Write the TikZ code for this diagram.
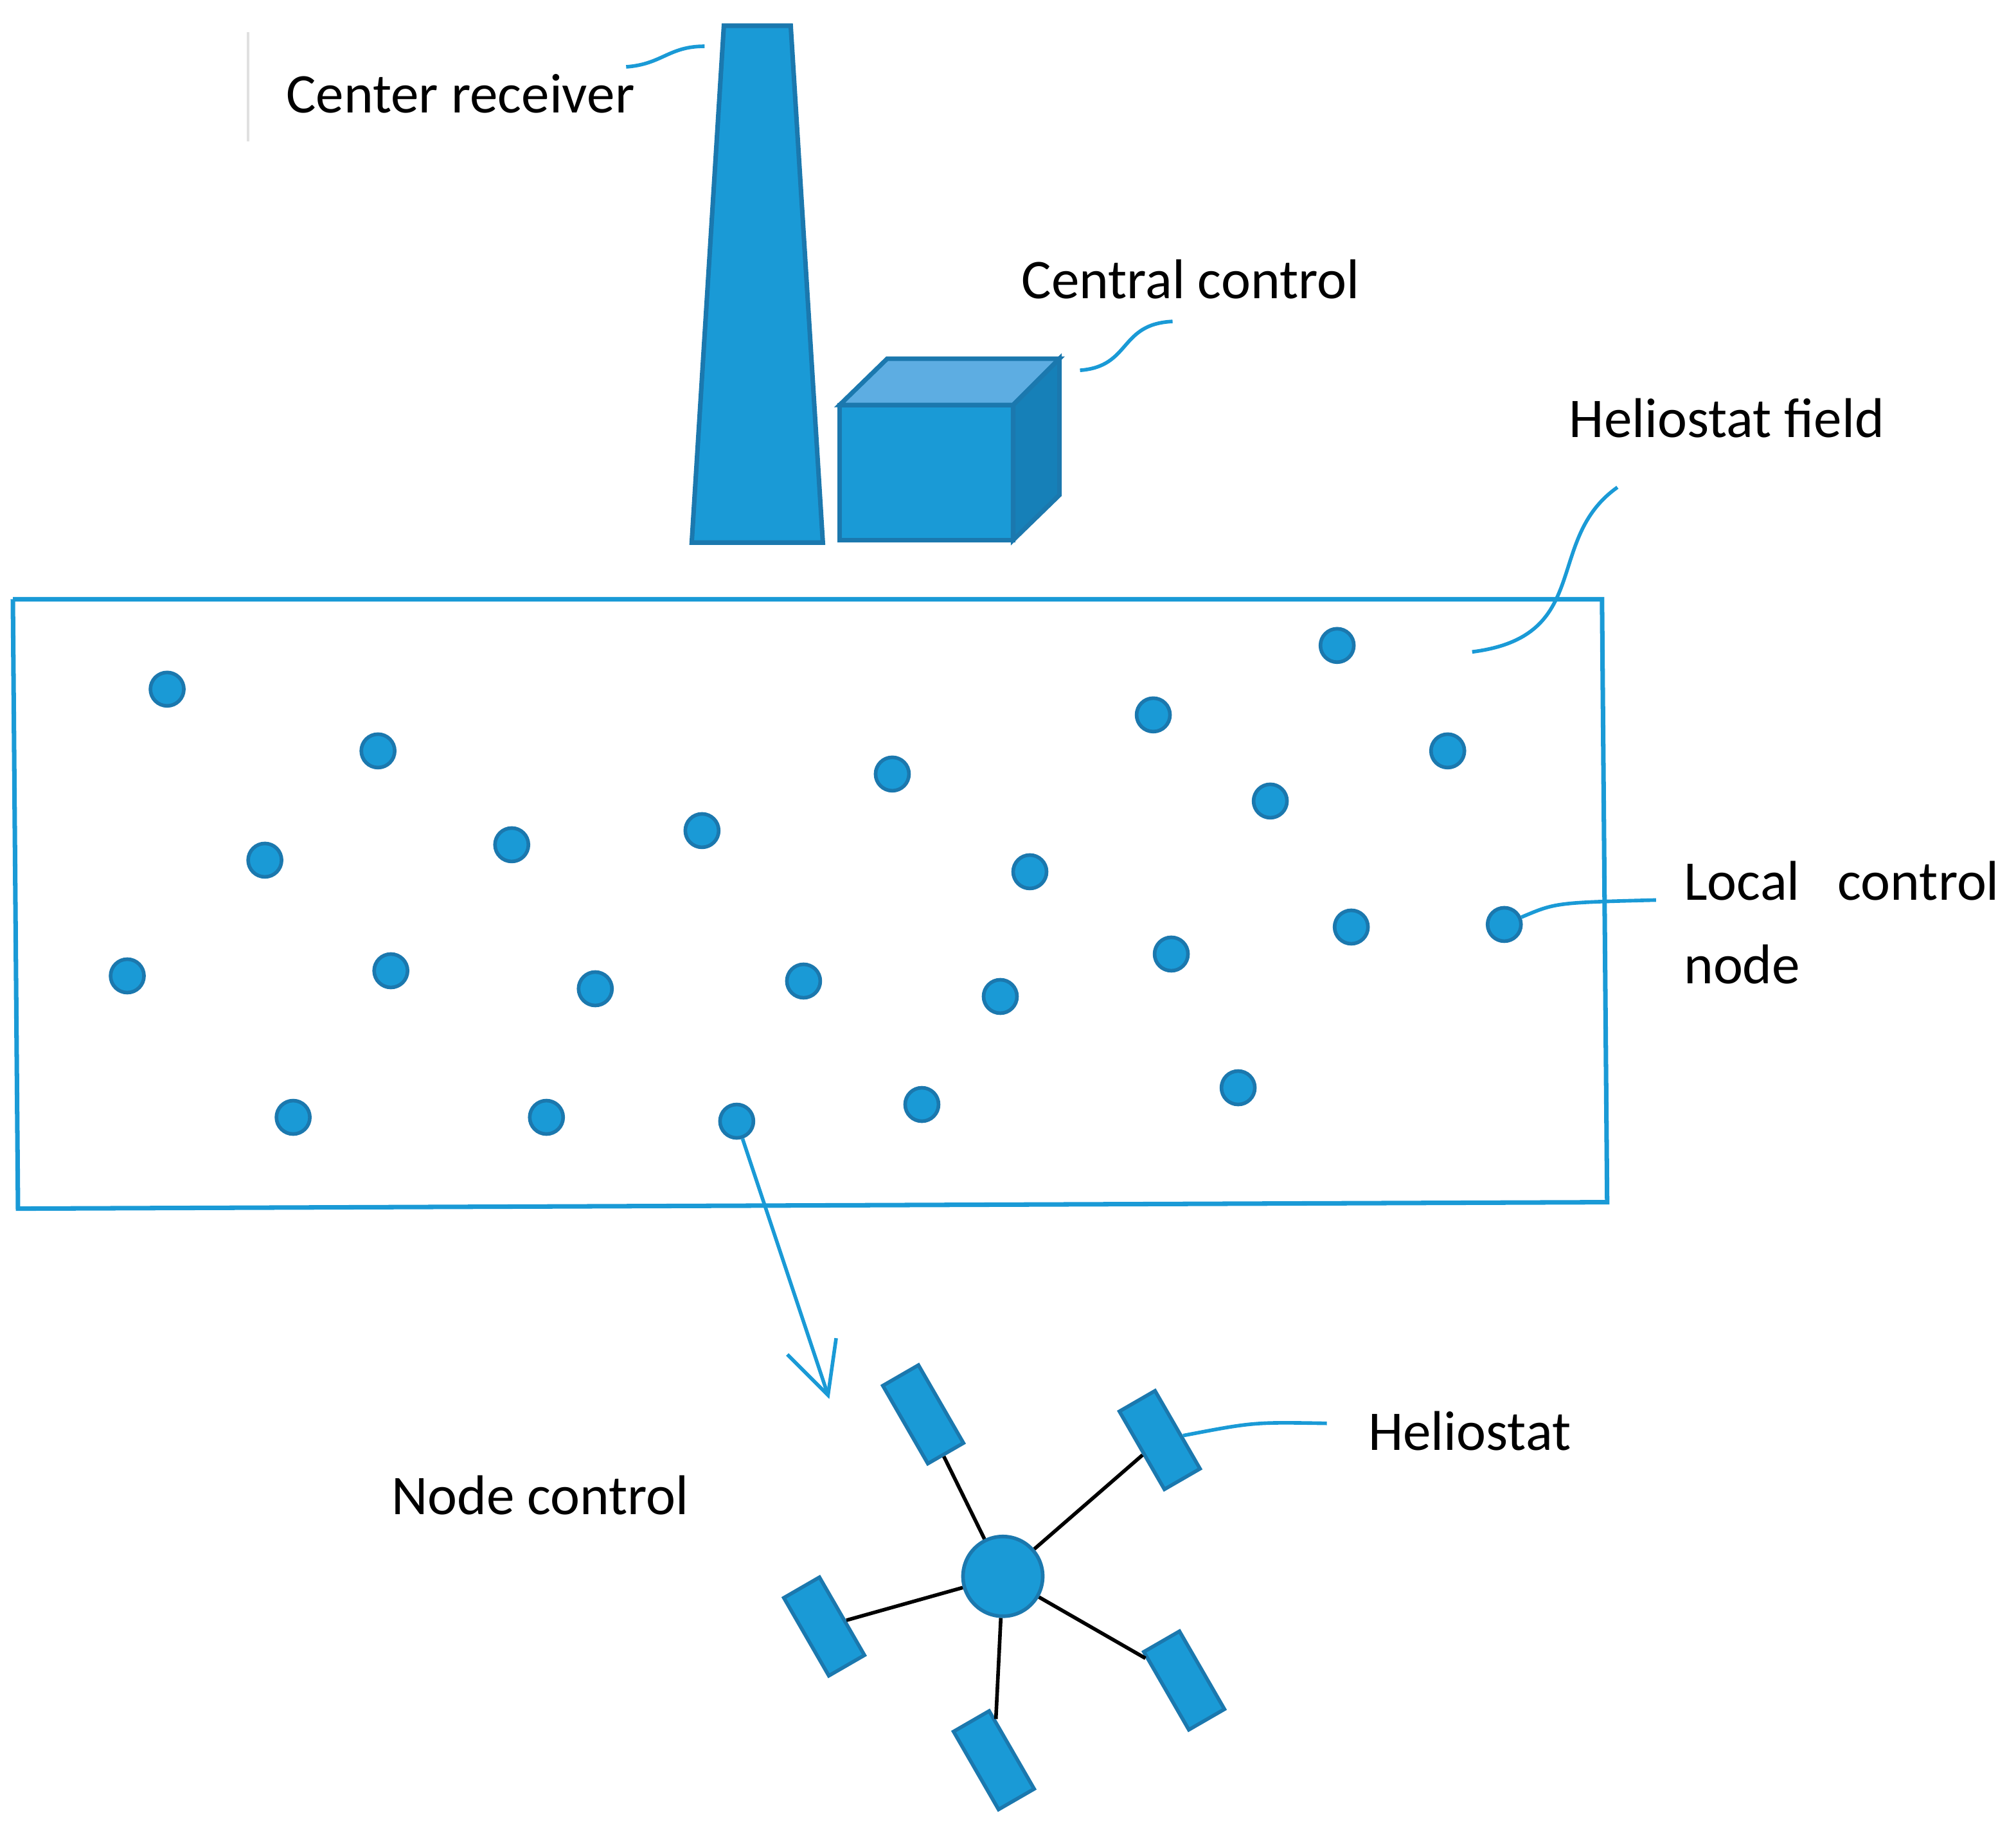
\documentclass[tikz,border=0pt]{standalone}
\usepackage{fontspec}
\setmainfont{Carlito}
\usetikzlibrary{arrows.meta}
\definecolor{hblue}{HTML}{1A9AD6}
\definecolor{hdark}{HTML}{1B78AE}
\definecolor{hlight}{HTML}{5DADE2}
\definecolor{hside}{HTML}{1680B8}
\tikzset{
  lbl/.style={font=\fontsize{12.4}{15}\selectfont, inner sep=0pt},
  leader/.style={hblue, line width=0.8pt},
  dot/.style={circle, fill=hblue, draw=hdark, line width=0.8pt, minimum size=2.6mm, inner sep=0pt},
  mirror/.style={rectangle, fill=hblue, draw=hdark, line width=0.8pt, minimum width=3.2mm, minimum height=7mm, inner sep=0pt, rotate=30}
}
\begin{document}
\begin{tikzpicture}[x=0.1mm, y=-0.1mm]
    \useasboundingbox (0,0) rectangle (1568,1431);
    \draw[black!12, line width=0.6pt] (193,25) -- (193,110);

    % tower and control building
    \filldraw[fill=hblue, draw=hdark, line width=1pt] (563,20) -- (615,20) -- (640,422) -- (538,422) -- cycle;
    \filldraw[fill=hblue, draw=hdark, line width=1pt] (653,315) rectangle (788,420);
    \filldraw[fill=hlight, draw=hdark, line width=1pt] (653,315) -- (690,279) -- (824,279) -- (788,315) -- cycle;
    \filldraw[fill=hside, draw=hdark, line width=1pt] (788,315) -- (824,279) -- (824,385) -- (788,420) -- cycle;

    % labels
    \node[lbl] (receiver) at (358,73) {Center receiver};
    \node[lbl] (central) at (926,217) {Central control};
    \node[lbl] (field) at (1343,325) {Heliostat field};
    \node[lbl, anchor=west] (local) at (1309,685) {Local\hspace{0.45em} control};
    \node[lbl, anchor=west] (localb) at (1309,750) {node};
    \node[lbl] (helio) at (1143,1113) {Heliostat};
    \node[lbl] (nodectl) at (420,1163) {Node control};

    % field boundary
    \draw[hblue, line width=1pt] (10,466) -- (1246,466) -- (1250,935) -- (14,940) -- (10,466);

    % local control nodes
    \foreach \x/\y [count=\i] in {130/536,294/584,206/669,398/657,546/646,694/602,897/556,1040/502,1126/584,988/623,801/678,99/759,304/755,463/769,625/763,778/775,911/742,1051/721,1170/719,228/869,425/869,573/872,717/859,963/846}{
      \node[dot] (n\i) at (\x,\y) {};
    }

    % leaders
    \coordinate (rl) at (487,52);
    \coordinate (cl) at (840,288);
    \coordinate (fl) at (1145,507);
    \coordinate (ll) at (1288,700);
    \coordinate (hl) at (1032,1107);
    \draw[leader] (rl) .. controls (515,50) and (520,36) .. (548,36);
    \draw[leader] (cl) .. controls (880,285) and (870,252) .. (912,250);
    \draw[leader] (fl) .. controls (1240,495) and (1200,420) .. (1258,379);
    \draw[leader] (n19) .. controls (1210,702) .. (ll);

    % zoom arrow
    \coordinate (az) at (645,1088);
    \draw[hblue, line width=0.8pt, -{Straight Barb[length=4mm, width=4mm]}] (n22) -- (az);

    % node control star
    \node[circle, fill=hblue, draw=hdark, line width=0.8pt, minimum size=6.2mm, inner sep=0pt] (hub) at (780,1226) {};
    \node[mirror] (m1) at (718,1100) {};
    \node[mirror] (m2) at (902,1120) {};
    \node[mirror] (m3) at (641,1265) {};
    \node[mirror] (m4) at (921,1307) {};
    \node[mirror] (m5) at (773,1369) {};
    \foreach \m in {m1,m2,m3,m4,m5}
      \draw[black, line width=0.8pt] (hub) -- (\m);
    \draw[leader] (m2) .. controls (975,1106) .. (hl);
\end{tikzpicture}
\end{document}
